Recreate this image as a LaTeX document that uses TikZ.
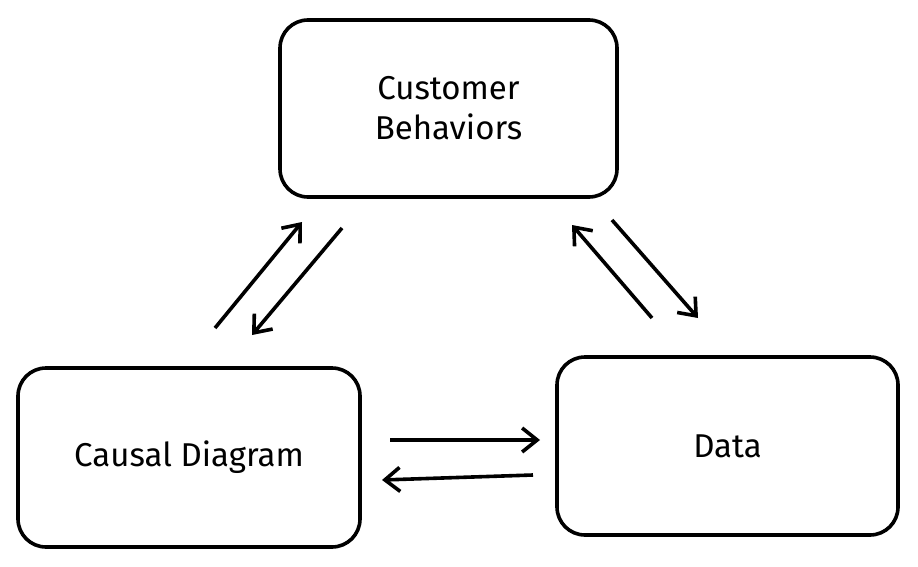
\documentclass[tikz,border=0pt]{standalone}
\usepackage{fontspec}
\setmainfont{Fira Sans}
\usetikzlibrary{arrows.meta}
\begin{document}
\begin{tikzpicture}[x=1pt,y=-1pt,
  box/.style={draw,line width=3.6pt,rounded corners=28pt,font=\fontsize{33}{40}\selectfont,align=center,inner sep=0pt},
  arr/.style={line width=3.6pt,-{Straight Barb[length=15pt,width=24pt,line width=3.6pt]}}]
\useasboundingbox (0,0) rectangle (918,567);
\node[box,minimum width=337pt,minimum height=177pt] (cb) at (448.5,108.5) {Customer\\Behaviors};
\node[box,minimum width=342pt,minimum height=179pt] (cd) at (189,457.5) {Causal Diagram};
\node[box,minimum width=341pt,minimum height=178pt] (da) at (727.5,446) {Data};
\coordinate (a1) at (215,328); \coordinate (a2) at (302,222);
\coordinate (b1) at (342,228); \coordinate (b2) at (252,335);
\coordinate (c1) at (652,318); \coordinate (c2) at (572,225);
\coordinate (d1) at (612,220); \coordinate (d2) at (698,318);
\coordinate (e1) at (390,440); \coordinate (e2) at (540,440);
\coordinate (f1) at (533,475); \coordinate (f2) at (382,480);
\draw[arr] (a1) -- (a2);
\draw[arr] (b1) -- (b2);
\draw[arr] (c1) -- (c2);
\draw[arr] (d1) -- (d2);
\draw[arr] (e1) -- (e2);
\draw[arr] (f1) -- (f2);
\end{tikzpicture}
\end{document}
